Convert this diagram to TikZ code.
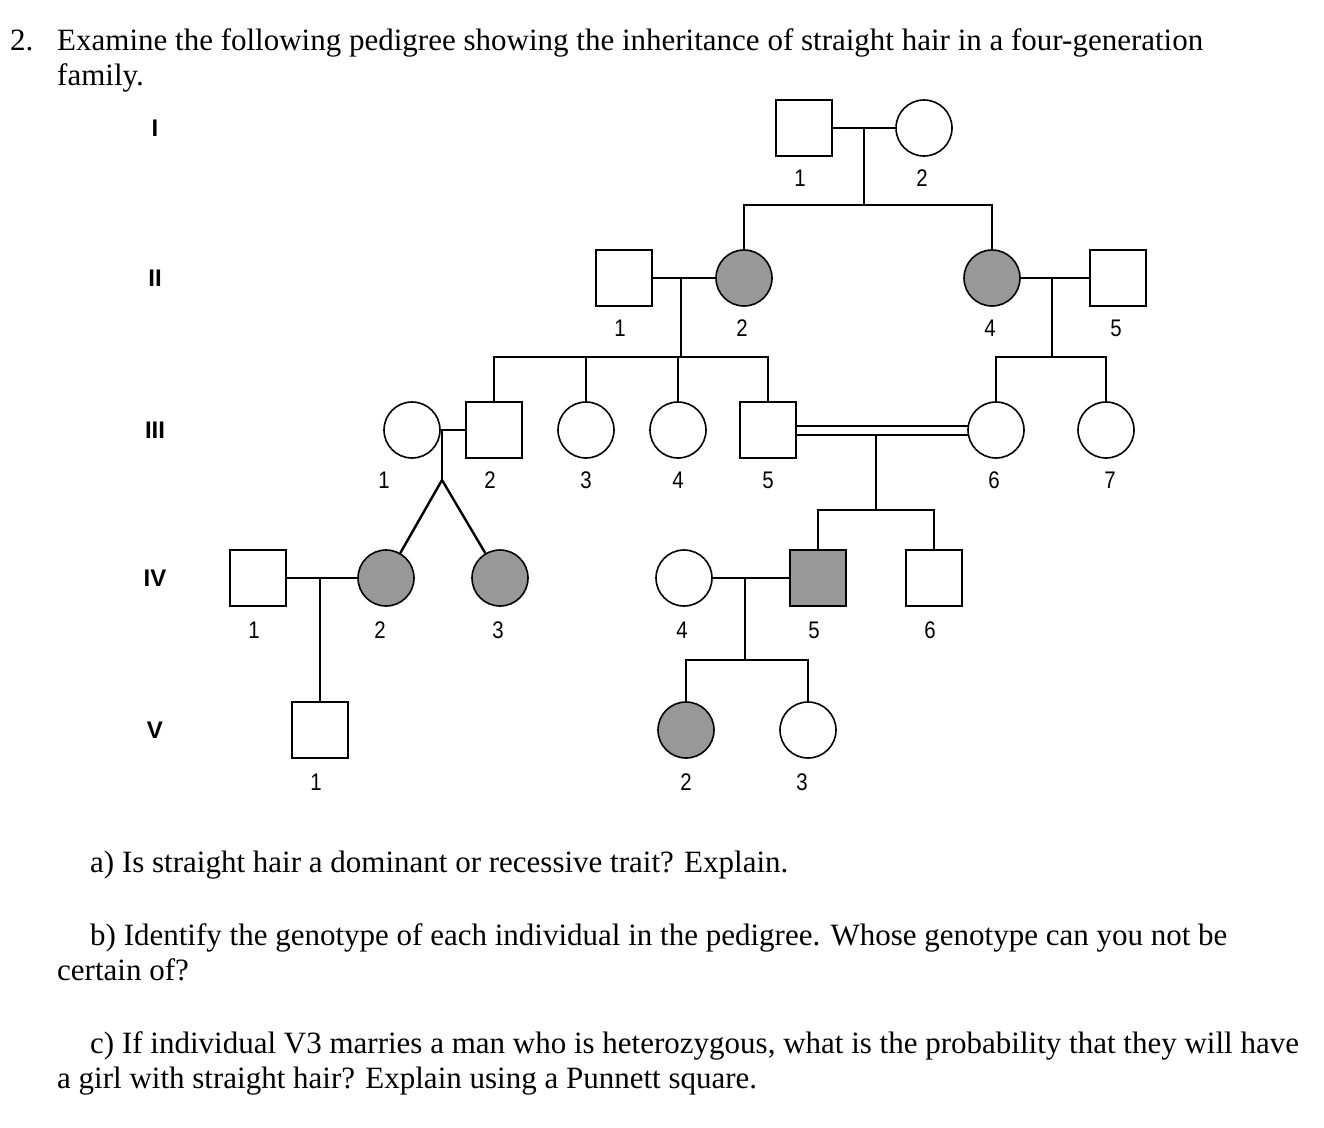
\documentclass[tikz,border=0pt]{standalone}
\usepackage{fontspec}
\setmainfont{Liberation Serif}
\newfontfamily\labb{Liberation Sans}
\begin{document}
\begin{tikzpicture}[x=1pt,y=-1pt,
  m/.style={draw,line width=1.6pt,minimum size=56pt,inner sep=0,fill=white},
  f/.style={m,circle},
  aff/.style={fill=gray!85!black!70},
  ln/.style={line width=2.4pt},
  num/.style={font=\labb\fontsize{24}{24}\selectfont,xscale=0.85},
  gen/.style={font=\labb\bfseries\fontsize{24}{24}\selectfont},
  txt/.style={anchor=base west,inner sep=0,font=\fontsize{31}{31}\selectfont}]
\useasboundingbox (0,0) rectangle (1324,1127);
\fill[white] (0,0) rectangle (1324,1127);
% lines
\coordinate (c1) at (864,128); \coordinate (c1b) at (864,205);
\draw[ln] (832,128) -- (896,128); \draw[ln] (c1) -- (c1b);
\draw[ln] (744,250) -- (744,205) -- (992,205) -- (992,250);
\draw[ln] (652,278) -- (716,278); \draw[ln] (681,278) -- (681,357);
\draw[ln] (494,402) -- (494,357) -- (768,357) -- (768,402);
\draw[ln] (586,357) -- (586,402); \draw[ln] (678,357) -- (678,402);
\draw[ln] (1020,278) -- (1090,278); \draw[ln] (1052,278) -- (1052,357);
\draw[ln] (996,402) -- (996,357) -- (1106,357) -- (1106,402);
\draw[ln] (440,430) -- (466,430);
\coordinate (tw) at (442,480);
\draw[ln] (442,430) -- (tw);
\draw[line width=1.5pt] (796,426) -- (968,426) (796,435) -- (968,435);
\draw[ln] (876,435) -- (876,510);
\draw[ln] (818,552) -- (818,510) -- (934,510) -- (934,552);
\draw[ln] (286,578) -- (358,578); \draw[ln] (320,578) -- (320,703);
\draw[ln] (712,578) -- (790,578); \draw[ln] (745,578) -- (745,660);
\draw[ln] (686,702) -- (686,660) -- (808,660) -- (808,702);
% individuals
\node[m] (I1) at (804,128) {}; \node[f] (I2) at (924,128) {};
\node[m] (II1) at (624,278) {}; \node[f,aff] (II2) at (744,278) {};
\node[f,aff] (II4) at (992,278) {}; \node[m] (II5) at (1118,278) {};
\node[f] (III1) at (412,430) {}; \node[m] (III2) at (494,430) {};
\node[f] (III3) at (586,430) {}; \node[f] (III4) at (678,430) {};
\node[m] (III5) at (768,430) {}; \node[f] (III6) at (996,430) {};
\node[f] (III7) at (1106,430) {};
\node[m] (IV1) at (258,578) {}; \node[f,aff] (IV2) at (386,578) {};
\node[f,aff] (IV3) at (500,578) {}; \node[f] (IV4) at (684,578) {};
\node[m,aff] (IV5) at (818,578) {}; \node[m] (IV6) at (934,578) {};
\node[m] (V1) at (320,730) {}; \node[f,aff] (V2) at (686,730) {};
\node[f] (V3) at (808,730) {};
\draw[ln] (tw) -- (IV2); \draw[ln] (tw) -- (IV3);
% numbers
\foreach \x/\y/\t [count=\i] in {800/178/1,922/178/2,620/328/1,742/328/2,990/328/4,1116/328/5,
 384/480/1,490/480/2,586/480/3,678/480/4,768/480/5,994/480/6,1110/480/7,
 254/630/1,380/630/2,498/630/3,682/630/4,814/630/5,930/630/6,316/782/1,686/782/2,802/782/3}
 \node[num] (n\i) at (\x,\y) {\t};
\foreach \y/\t [count=\i] in {128/I,278/II,430/III,578/IV,730/V}
 \node[gen] (g\i) at (155,\y) {\t};
% text
\node[txt] (t0) at (10,50) {2.};
\node[txt] (t1) at (57,50) {Examine the following pedigree showing the inheritance of straight hair in a four-generation};
\node[txt] (t2) at (57,85) {family.};
\node[txt] (ta) at (90,872) {a) Is straight hair a dominant or recessive trait? Explain.};
\node[txt] (tb) at (90,945) {b) Identify the genotype of each individual in the pedigree. Whose genotype can you not be};
\node[txt] (tb2) at (57,980) {certain of?};
\node[txt] (tc) at (90,1053) {c) If individual V3 marries a man who is heterozygous, what is the probability that they will have};
\node[txt] (tc2) at (57,1088) {a girl with straight hair? Explain using a Punnett square.};
\end{tikzpicture}
\end{document}
